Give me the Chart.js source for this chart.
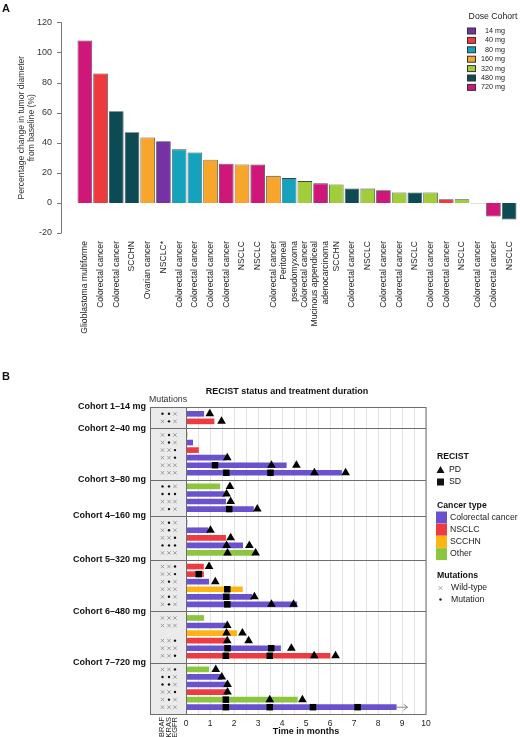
<!DOCTYPE html>
<html>
<head>
<meta charset="utf-8">
<script src="https://cdn.jsdelivr.net/npm/chart.js@4.4.1/dist/chart.umd.min.js"></script>
<style>
    body { margin: 0; background: #fff; font-family: "Liberation Sans", Arial, sans-serif; }
    #wrap { position: relative; width: 520px; height: 737px; overflow: hidden; }
    canvas { position: absolute; left: 0; }
    .panel { position: absolute; left: 2px; font-weight: bold; font-size: 11px; color: #111; z-index: 2; }
</style>
</head>
<body>
<div id="wrap">
    <canvas id="chartA" width="520" height="345" style="top:0"></canvas>
    <canvas id="chartB" width="520" height="377" style="top:360px"></canvas>
    <div class="panel" style="top:2px">A</div>
    <div class="panel" style="top:370px">B</div>
</div>
<script>
// panel A - waterfall
var tumorTypes = ['Glioblastoma multiforme', 'Colorectal cancer', 'Colorectal cancer', 'SCCHN', 'Ovarian cancer', 'NSCLC*',
    'Colorectal cancer', 'Colorectal cancer', 'Colorectal cancer', 'Colorectal cancer', 'NSCLC', 'NSCLC', 'Colorectal cancer',
    ['Peritoneal', 'pseudomyxoma'], 'Colorectal cancer', ['Mucinous appendiceal', 'adenocarcinoma'], 'SCCHN', 'Colorectal cancer',
    'NSCLC', 'Colorectal cancer', 'Colorectal cancer', 'NSCLC', 'Colorectal cancer', 'Colorectal cancer', 'NSCLC',
    'Colorectal cancer', 'Colorectal cancer', 'NSCLC'];
var changePct = [108, 86, 61, 47, 43.5, 41, 35.6, 33.5, 28.7, 26, 25.5, 25.5, 18, 16.5, 14.5, 13, 12.3, 9.6, 9.5, 8.5,
    7, 7, 7, 2.5, 2.5, -0.4, -9, -11];
var doseOfBar = ['720 mg', '40 mg', '480 mg', '480 mg', '160 mg', '14 mg', '80 mg', '80 mg', '160 mg', '720 mg', '160 mg',
    '720 mg', '160 mg', '80 mg', '320 mg', '720 mg', '320 mg', '480 mg', '320 mg', '720 mg', '320 mg', '480 mg', '320 mg',
    '40 mg', '320 mg', '320 mg', '720 mg', '480 mg'];
var doses = ['14 mg', '40 mg', '80 mg', '160 mg', '320 mg', '480 mg', '720 mg'];
var yTicksA = [-20, 0, 20, 40, 60, 80, 100, 120];

// panel B - swimmer plot
var cohorts = ['Cohort 1\u201314 mg', 'Cohort 2\u201340 mg', 'Cohort 3\u201380 mg', 'Cohort 4\u2013160 mg',
    'Cohort 5\u2013320 mg', 'Cohort 6\u2013480 mg', 'Cohort 7\u2013720 mg'];
var patientCohort = [0, 0, 1, 1, 1, 1, 1, 1, 2, 2, 2, 2, 3, 3, 3, 3, 3, 4, 4, 4, 4, 4, 4, 5, 5, 5, 5, 5, 5, 6, 6, 6, 6, 6, 6];
var cancerType = ['Colorectal cancer', 'NSCLC',
    'Other', 'Colorectal cancer', 'NSCLC', 'Colorectal cancer', 'Colorectal cancer', 'Colorectal cancer',
    'Other', 'Colorectal cancer', 'Colorectal cancer', 'Colorectal cancer',
    'Colorectal cancer', 'Colorectal cancer', 'NSCLC', 'Colorectal cancer', 'Other',
    'NSCLC', 'NSCLC', 'Colorectal cancer', 'SCCHN', 'Colorectal cancer', 'Colorectal cancer',
    'Other', 'Colorectal cancer', 'SCCHN', 'NSCLC', 'Colorectal cancer', 'NSCLC',
    'Other', 'Colorectal cancer', 'Colorectal cancer', 'NSCLC', 'Other', 'Colorectal cancer'];
var monthsOnTreatment = [0.74, 1.17,
    0.05, 0.28, 0.52, 1.65, 4.18, 6.48,
    1.41, 1.6, 1.65, 2.81,
    0.04, 0.92, 1.65, 2.36, 2.81,
    0.73, 0.73, 0.95, 2.35, 2.74, 4.62,
    0.74, 1.66, 2.11, 1.72, 3.94, 6.0,
    0.95, 1.48, 1.72, 1.72, 4.64, 8.76];
// BRAF KRAS EGFR: x = wild-type, m = mutation
var mutations = ['mmx', 'xmx',
    'xmx', 'xmx', 'xxm', 'xxm', 'xxx', 'xxx',
    'mmx', 'mmm', 'xxx', 'xmx',
    'xmx', 'xmx', 'xxm', 'mmm', 'xxx',
    'xxm', 'xxm', 'xmx', 'xxx', 'xmx', 'xmx',
    'xxx', 'xxx', '', 'xxm', 'xxx', 'xxm',
    'xxm', 'mmx', 'mmx', 'xxm', 'xmx', 'xxx'];
var pdMonths = [[0.99], [1.48],
    [], [], [], [1.72], [3.56, 4.6], [5.35, 6.65],
    [1.83], [1.69], [1.86], [2.97],
    [], [1.02], [1.86], [1.69, 2.64], [1.73, 2.9],
    [0.96], [], [1.22], [], [2.85], [3.56, 4.48],
    [], [1.72], [1.69, 2.35], [1.72, 2.61], [4.39], [5.34, 6.23],
    [1.24], [1.49], [1.73], [1.73], [3.49, 4.85], []];
var sdMonths = [[], [],
    [], [], [], [], [1.21], [1.68, 3.52],
    [], [], [], [1.8],
    [], [], [], [], [],
    [], [0.53], [], [1.72], [1.68], [1.72],
    [], [], [], [], [1.73, 3.55], [1.66, 3.49],
    [], [], [], [], [1.66], [1.66, 3.49, 5.29, 7.15]];
var ongoingTo = [null, null, null, null, null, null, null, null, null, null, null, null, null, null, null, null, null,
    null, null, null, null, null, null, null, null, null, null, null, null, null, null, null, null, null, 9.23];
var genes = ['BRAF', 'KRAS', 'EGFR'];
var cancerTypes = ['Colorectal cancer', 'NSCLC', 'SCCHN', 'Other'];

var FONT = '"Liberation Sans", Arial, Helvetica, sans-serif';
Chart.defaults.font.family = FONT;

var doseColor = {
    '14 mg': '#7631a3', '40 mg': '#ef3a3d', '80 mg': '#14a2bd', '160 mg': '#f8a62b',
    '320 mg': '#a1cd3a', '480 mg': '#0c4a54', '720 mg': '#cf1779'
};
var typeColor = { 'Colorectal cancer': '#6a52cf', 'NSCLC': '#ee3a41', 'SCCHN': '#fdb515', 'Other': '#8cc63f' };

var axisA = {
    id: 'axisA',
    afterDraw: function (chart) {
        var ctx = chart.ctx, x = chart.scales.x, y = chart.scales.y;
        ctx.save();
        ctx.strokeStyle = '#777';
        ctx.lineWidth = 1;
        ctx.beginPath();
        ctx.moveTo(61.5, y.getPixelForValue(120));
        ctx.lineTo(61.5, y.getPixelForValue(-20));
        yTicksA.forEach(function (v) {
            var py = Math.round(y.getPixelForValue(v)) + 0.5;
            ctx.moveTo(57, py);
            ctx.lineTo(61.5, py);
        });
        ctx.stroke();

        // category labels, multi-line ones centred on their bar
        ctx.fillStyle = '#222';
        ctx.font = '8.6px ' + FONT;
        ctx.textAlign = 'right';
        ctx.textBaseline = 'middle';
        tumorTypes.forEach(function (t, i) {
            var lines = Array.isArray(t) ? t : [t];
            var px = x.getPixelForValue(i);
            lines.forEach(function (line, j) {
                ctx.save();
                ctx.translate(px + (j - (lines.length - 1) / 2) * 11, 241);
                ctx.rotate(-Math.PI / 2);
                ctx.fillText(line, 0, 0);
                ctx.restore();
            });
        });

        // dose legend
        ctx.fillStyle = '#222';
        ctx.font = '8.7px ' + FONT;
        ctx.textAlign = 'center';
        ctx.fillText('Dose Cohort', 493, 17);
        ctx.font = '7.2px ' + FONT;
        ctx.textAlign = 'right';
        doses.forEach(function (d, i) {
            var cy = 31 + i * 9.4;
            ctx.fillStyle = doseColor[d];
            ctx.fillRect(467.5, cy - 3, 8, 6);
            ctx.strokeStyle = '#333';
            ctx.strokeRect(467.5, cy - 3, 8, 6);
            ctx.fillStyle = '#222';
            ctx.fillText(d, 505, cy);
        });
        ctx.restore();
    }
};

new Chart(document.getElementById('chartA'), {
    type: 'bar',
    data: {
        labels: tumorTypes,
        datasets: [{
            data: changePct,
            backgroundColor: doseOfBar.map(function (d) { return doseColor[d]; }),
            borderColor: '#444',
            borderWidth: 0.8,
            barPercentage: 0.93,
            categoryPercentage: 1
        }]
    },
    options: {
        responsive: false,
        animation: false,
        layout: { padding: { top: 9, right: 3, left: 0, bottom: 0 } },
        plugins: { legend: { display: false }, tooltip: { enabled: false } },
        scales: {
            x: {
                grid: { display: false },
                border: { display: false },
                ticks: { display: false },
                afterFit: function (s) { s.height = 112; }
            },
            y: {
                min: -20, max: 120,
                afterBuildTicks: function (s) { s.ticks = yTicksA.map(function (v) { return { value: v }; }); },
                ticks: { color: '#333', font: { size: 9 }, padding: 17 },
                grid: { display: false },
                border: { display: false },
                title: {
                    display: true,
                    text: ['Percentage change in tumor diameter', 'from baseline (%)'],
                    color: '#333', font: { size: 8.6 }, padding: { top: 16, bottom: 0 }
                },
                afterFit: function (s) { s.width = 77; }
            }
        }
    },
    plugins: [axisA]
});

// row positions for panel B
var rowPos = [], sepPos = [0], start = 0;
cohorts.forEach(function (c, k) {
    var n = 0;
    patientCohort.forEach(function (pc, i) {
        if (pc === k) { rowPos[i] = start + 0.9 + n; n++; }
    });
    start += n + 0.8;
    sepPos.push(start);
});
var totalRows = start;

var barData = monthsOnTreatment.map(function (m, i) { return { x: [0, m], y: rowPos[i] }; });
var pdPoints = [], sdPoints = [];
pdMonths.forEach(function (list, i) { list.forEach(function (t) { pdPoints.push({ x: t, y: rowPos[i] }); }); });
sdMonths.forEach(function (list, i) { list.forEach(function (t) { sdPoints.push({ x: t, y: rowPos[i] }); }); });

var OFF = 360;
function drawCross(ctx, x, y, s) {
    ctx.beginPath();
    ctx.moveTo(x - s, y - s); ctx.lineTo(x + s, y + s);
    ctx.moveTo(x - s, y + s); ctx.lineTo(x + s, y - s);
    ctx.stroke();
}
function drawDot(ctx, x, y, r) {
    ctx.beginPath();
    ctx.arc(x, y, r, 0, Math.PI * 2);
    ctx.fill();
}

var decorB = {
    id: 'decorB',
    beforeDraw: function (chart) {
        var ctx = chart.ctx, a = chart.chartArea;
        ctx.save();
        ctx.fillStyle = '#ebebeb';
        ctx.fillRect(150, a.top, a.left - 150, a.bottom - a.top);
        ctx.restore();
    },
    afterDraw: function (chart) {
        var ctx = chart.ctx, a = chart.chartArea, x = chart.scales.x, y = chart.scales.y;
        ctx.save();
        ctx.strokeStyle = '#6e6e6e';
        ctx.lineWidth = 1;
        ctx.strokeRect(150.5, a.top + 0.5, a.right - 150.5, a.bottom - a.top);
        ctx.beginPath();
        ctx.moveTo(a.left + 0.5, a.top);
        ctx.lineTo(a.left + 0.5, a.bottom);
        sepPos.forEach(function (s) {
            var py = Math.round(y.getPixelForValue(s)) + 0.5;
            ctx.moveTo(150, py);
            ctx.lineTo(a.right, py);
        });
        ctx.stroke();

        // cohort labels
        ctx.fillStyle = '#111';
        ctx.font = 'bold 9px ' + FONT;
        ctx.textAlign = 'right';
        ctx.textBaseline = 'middle';
        cohorts.forEach(function (c, k) {
            ctx.fillText(c, 146, y.getPixelForValue(sepPos[k]));
        });

        // mutation grid
        var cols = [162.5, 169, 175];
        mutations.forEach(function (m, i) {
            var py = y.getPixelForValue(rowPos[i]);
            m.split('').forEach(function (ch, j) {
                if (ch === 'x') {
                    ctx.strokeStyle = '#8a8a8a';
                    ctx.lineWidth = 0.8;
                    drawCross(ctx, cols[j], py, 1.7);
                } else {
                    ctx.fillStyle = '#111';
                    drawDot(ctx, cols[j], py, 1.2);
                }
            });
        });

        // gene labels
        ctx.fillStyle = '#222';
        ctx.font = '7.5px ' + FONT;
        ctx.textAlign = 'right';
        genes.forEach(function (g, j) {
            ctx.save();
            ctx.translate(cols[j] - 0.5, a.bottom + 3);
            ctx.rotate(-Math.PI / 2);
            ctx.fillText(g, 0, 0);
            ctx.restore();
        });

        // ongoing arrow
        ctx.strokeStyle = '#888';
        ctx.lineWidth = 1;
        ongoingTo.forEach(function (t, i) {
            if (t === null) return;
            var py = y.getPixelForValue(rowPos[i]);
            var x0 = x.getPixelForValue(monthsOnTreatment[i]), x1 = x.getPixelForValue(t);
            ctx.beginPath();
            ctx.moveTo(x0, py); ctx.lineTo(x1, py);
            ctx.moveTo(x1 - 4, py - 3); ctx.lineTo(x1, py); ctx.lineTo(x1 - 4, py + 3);
            ctx.stroke();
        });

        // titles
        ctx.fillStyle = '#111';
        ctx.textAlign = 'center';
        ctx.font = 'bold 9px ' + FONT;
        ctx.fillText('RECIST status and treatment duration', 287, 392 - OFF);
        ctx.font = '8.8px ' + FONT;
        ctx.fillStyle = '#333';
        ctx.fillText('Mutations', 168, 400 - OFF);

        // legend
        var lx = 437;
        ctx.textAlign = 'left';
        ctx.fillStyle = '#111';
        ctx.font = 'bold 8.7px ' + FONT;
        ctx.fillText('RECIST', lx, 457 - OFF);
        ctx.fillText('Cancer type', lx, 506 - OFF);
        ctx.fillText('Mutations', lx, 576 - OFF);
        ctx.font = '8.7px ' + FONT;
        ctx.beginPath();
        ctx.moveTo(440.5, 470 - OFF - 4); ctx.lineTo(444.5, 470 - OFF + 3); ctx.lineTo(436.5, 470 - OFF + 3);
        ctx.closePath();
        ctx.fill();
        ctx.fillText('PD', 449, 470 - OFF);
        ctx.fillRect(437, 482 - OFF - 3.5, 7, 7);
        ctx.fillText('SD', 449, 482 - OFF);
        cancerTypes.forEach(function (t, i) {
            var cy = 517.5 - OFF + i * 12.2;
            ctx.fillStyle = typeColor[t];
            ctx.fillRect(436, cy - 6, 11, 12);
            ctx.fillStyle = '#222';
            ctx.fillText(t, 450, cy);
        });
        ctx.strokeStyle = '#8a8a8a';
        ctx.lineWidth = 0.8;
        drawCross(ctx, 440.5, 588 - OFF, 1.8);
        drawDot(ctx, 440.5, 599.5 - OFF, 1.2);
        ctx.fillText('Wild-type', 451, 588 - OFF);
        ctx.fillText('Mutation', 451, 600 - OFF);
        ctx.restore();
    }
};

new Chart(document.getElementById('chartB'), {
    type: 'bar',
    data: {
        datasets: [
            {
                type: 'scatter', data: pdPoints, pointStyle: 'triangle', pointRadius: 5,
                backgroundColor: '#000', borderColor: '#000', borderWidth: 0, order: 1
            },
            {
                type: 'scatter', data: sdPoints, pointStyle: 'rect', pointRadius: 4.6,
                backgroundColor: '#000', borderColor: '#000', borderWidth: 0, order: 2
            },
            {
                type: 'bar', indexAxis: 'y', data: barData, barThickness: 5, borderWidth: 0, order: 3,
                backgroundColor: cancerType.map(function (t) { return typeColor[t]; })
            }
        ]
    },
    options: {
        responsive: false,
        animation: false,
        layout: { padding: { top: 47, left: 186, right: 94, bottom: 0 } },
        plugins: { legend: { display: false }, tooltip: { enabled: false } },
        scales: {
            x: {
                type: 'linear', min: 0, max: 10, offset: false,
                ticks: {
                    stepSize: 0.5, autoSkip: false, maxRotation: 0, padding: 5, color: '#222', font: { size: 8.5 },
                    callback: function (v) { return v % 1 === 0 ? v : ''; }
                },
                grid: { color: '#e3e3e3', drawTicks: false, offset: false },
                border: { display: false },
                title: { display: true, text: 'Time in months', color: '#111', font: { size: 9, weight: 'bold' }, padding: 0 },
                afterFit: function (s) { s.height = 23; }
            },
            y: { type: 'linear', reverse: true, min: 0, max: totalRows, offset: false, display: false }
        }
    },
    plugins: [decorB]
});
</script>
</body>
</html>
